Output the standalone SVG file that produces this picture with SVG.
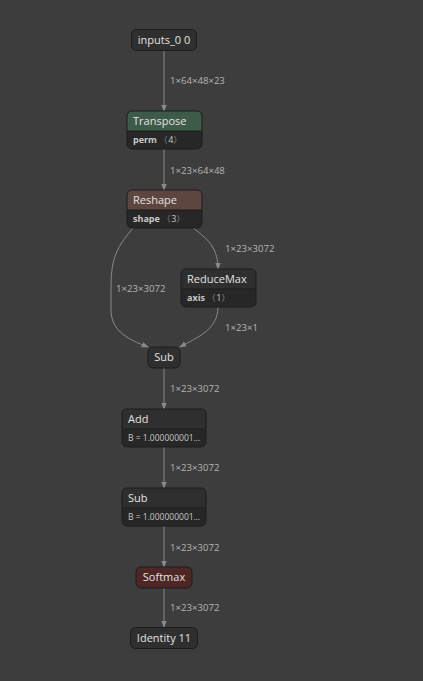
<svg xmlns="http://www.w3.org/2000/svg" width="423" height="681" viewBox="0 0 423 681">
<defs>
<style>
.bg{fill:#3d3d3d}
.box{fill:#2f2f2f;stroke:#1c1c1c;stroke-width:1}
.attr{fill:#272727}
.sep{stroke:#1c1c1c;stroke-width:1}
.t{font-family:"Open Sans","Noto Sans",sans-serif;font-size:11px;fill:#e2e2e2}
.a{font-family:"Open Sans","Noto Sans",sans-serif;font-size:9px;fill:#c8c8c8}
.b{font-size:8.5px}
.ab{font-weight:bold}
.e{fill:none;stroke:#8a8a8a;stroke-width:1}
.el{font-family:"Open Sans","Noto Sans",sans-serif;font-size:9.6px;fill:#b4b4b4}
</style>
<marker id="ar" viewBox="0 0 10 10" refX="9" refY="5" markerWidth="7" markerHeight="7" orient="auto" markerUnits="userSpaceOnUse">
<path d="M0,1 L10,5 L0,9 Z" fill="#8a8a8a"/>
</marker>
<clipPath id="c1"><rect x="127" y="111" width="75" height="38" rx="5"/></clipPath>
<clipPath id="c2"><rect x="127" y="190" width="75" height="38" rx="5"/></clipPath>
<clipPath id="c3"><rect x="181" y="269" width="75" height="38" rx="5"/></clipPath>
<clipPath id="c4"><rect x="122" y="409" width="84" height="38" rx="5"/></clipPath>
<clipPath id="c5"><rect x="122" y="488" width="84" height="38" rx="5"/></clipPath>
</defs>
<rect class="bg" x="0" y="0" width="423" height="681"/>
<g id="edges">
<path class="e" d="M164,51 L164,111" marker-end="url(#ar)"/>
<text class="el" x="170" y="84">1×64×48×23</text>
<path class="e" d="M164,149 L164,190" marker-end="url(#ar)"/>
<text class="el" x="170" y="174">1×23×64×48</text>
<path class="e" d="M193,228 C210,240 218,250 218,269" marker-end="url(#ar)"/>
<text class="el" x="225" y="252">1×23×3072</text>
<path class="e" d="M133,228 C114,250 111,262 111,290 L111,310 C111,332 130,340 148,347" marker-end="url(#ar)"/>
<text class="el" x="116" y="292">1×23×3072</text>
<path class="e" d="M218,307 C218,330 196,338 180,347" marker-end="url(#ar)"/>
<text class="el" x="225" y="331">1×23×1</text>
<path class="e" d="M164,368 L164,409" marker-end="url(#ar)"/>
<text class="el" x="170" y="392">1×23×3072</text>
<path class="e" d="M164,447 L164,488" marker-end="url(#ar)"/>
<text class="el" x="170" y="471">1×23×3072</text>
<path class="e" d="M164,526 L164,567" marker-end="url(#ar)"/>
<text class="el" x="170" y="551">1×23×3072</text>
<path class="e" d="M164,588 L164,627" marker-end="url(#ar)"/>
<text class="el" x="170" y="611">1×23×3072</text>
</g>
<g id="node-inputs">
<rect class="box" x="131.5" y="29.5" width="65" height="21" rx="5"/>
<text class="t" x="164" y="44" text-anchor="middle">inputs_0 0</text>
</g>
<g id="node-transpose">
<g clip-path="url(#c1)">
<rect x="127" y="111" width="75" height="20" fill="#3e5a48"/>
<rect class="attr" x="127" y="131" width="75" height="18"/>
</g>
<rect x="127" y="111" width="75" height="38" rx="5" fill="none" stroke="#1c1c1c"/>
<line class="sep" x1="127" y1="131" x2="202" y2="131"/>
<text class="t" x="133" y="125">Transpose</text>
<text class="a" x="133" y="143"><tspan class="ab">perm</tspan> 〈4〉</text>
</g>
<g id="node-reshape">
<g clip-path="url(#c2)">
<rect x="127" y="190" width="75" height="20" fill="#5d4640"/>
<rect class="attr" x="127" y="210" width="75" height="18"/>
</g>
<rect x="127" y="190" width="75" height="38" rx="5" fill="none" stroke="#1c1c1c"/>
<line class="sep" x1="127" y1="210" x2="202" y2="210"/>
<text class="t" x="133" y="204">Reshape</text>
<text class="a" x="133" y="222"><tspan class="ab">shape</tspan> 〈3〉</text>
</g>
<g id="node-reducemax">
<g clip-path="url(#c3)">
<rect x="181" y="269" width="75" height="20" fill="#2f2f2f"/>
<rect class="attr" x="181" y="289" width="75" height="18"/>
</g>
<rect x="181" y="269" width="75" height="38" rx="5" fill="none" stroke="#1c1c1c"/>
<line class="sep" x1="181" y1="289" x2="256" y2="289"/>
<text class="t" x="187" y="283">ReduceMax</text>
<text class="a" x="187" y="301"><tspan class="ab">axis</tspan> 〈1〉</text>
</g>
<g id="node-sub1">
<rect class="box" x="148" y="347" width="32" height="21" rx="5"/>
<text class="t" x="164" y="361" text-anchor="middle">Sub</text>
</g>
<g id="node-add">
<g clip-path="url(#c4)">
<rect x="122" y="409" width="84" height="20" fill="#2f2f2f"/>
<rect class="attr" x="122" y="429" width="84" height="18"/>
</g>
<rect x="122" y="409" width="84" height="38" rx="5" fill="none" stroke="#1c1c1c"/>
<line class="sep" x1="122" y1="429" x2="206" y2="429"/>
<text class="t" x="128" y="423">Add</text>
<text class="a b" x="128" y="441">B = 1.000000001…</text>
</g>
<g id="node-sub2">
<g clip-path="url(#c5)">
<rect x="122" y="488" width="84" height="20" fill="#2f2f2f"/>
<rect class="attr" x="122" y="508" width="84" height="18"/>
</g>
<rect x="122" y="488" width="84" height="38" rx="5" fill="none" stroke="#1c1c1c"/>
<line class="sep" x1="122" y1="508" x2="206" y2="508"/>
<text class="t" x="128" y="502">Sub</text>
<text class="a b" x="128" y="520">B = 1.000000001…</text>
</g>
<g id="node-softmax">
<rect x="136" y="567" width="56" height="21" rx="5" fill="#4e2624" stroke="#1c1c1c"/>
<text class="t" x="164" y="581" text-anchor="middle">Softmax</text>
</g>
<g id="node-identity">
<rect class="box" x="130.5" y="627.5" width="67" height="21" rx="5"/>
<text class="t" x="164" y="642" text-anchor="middle">Identity 11</text>
</g>
</svg>
